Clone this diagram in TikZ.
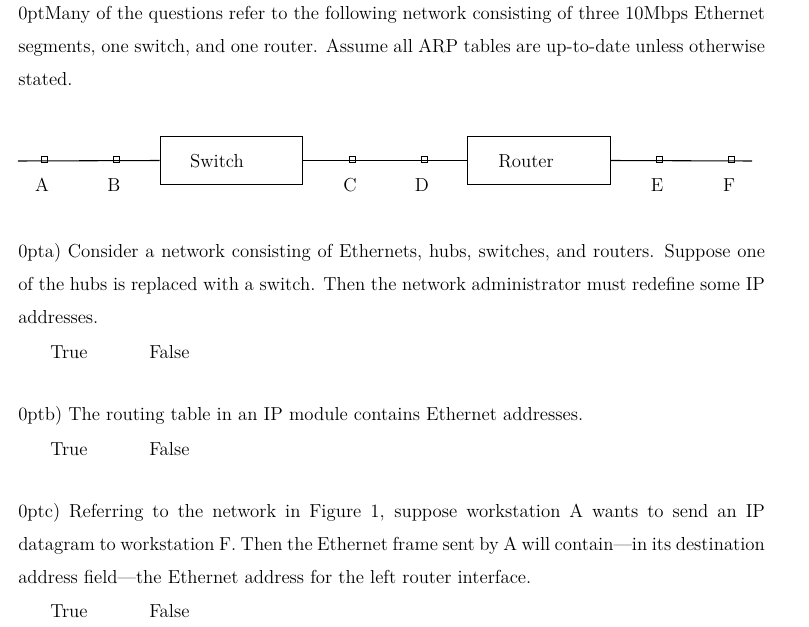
\documentclass[tikz,border=0pt]{standalone}
\begin{document}
\begin{tikzpicture}[x=0.75pt,y=-0.75pt,
 para/.style={anchor=north west,inner sep=0pt,text width=560pt,align=justify,font=\fontsize{14.1}{24.75}\selectfont\hyphenpenalty=10000\exhyphenpenalty=10000},
 txt/.style={inner sep=0pt,font=\fontsize{14.1}{16}\selectfont},
 sq/.style={draw,line width=0.6pt,minimum size=4.5pt,inner sep=0pt},
 box/.style={draw,line width=0.8pt,minimum width=107pt,minimum height=36.5pt,inner sep=0pt}]
\useasboundingbox (0,0) rectangle (809,627);
\node[para] (p1) at (18,6) {Many of the questions refer to the following network consisting of three 10Mbps Ethernet segments, one switch, and one router. Assume all ARP tables are up-to-date unless otherwise stated.};
\coordinate (l0) at (18,161);
\coordinate (l1) at (752,161);
\node[box] (sw) at (231.5,160.5) {};
\node[box] (rt) at (539,160.5) {};
\draw[line width=0.8pt] (l0) -- (sw.west);
\draw[line width=0.8pt] (sw.east) -- (rt.west);
\draw[line width=0.8pt] (rt.east) -- (l1);
\node[txt] (swt) at (217,161) {Switch};
\node[txt] (rtt) at (526,161) {Router};
\foreach \n/\x in {A/44,B/116,C/352,D/424,E/659,F/731}{
  \node[sq] (s\n) at (\x,159) {};
  \node[txt] (t\n) at (\x-2,185) {\n};
}
\node[para] (pa) at (18,243) {a) Consider a network consisting of Ethernets, hubs, switches, and routers. Suppose one of the hubs is replaced with a switch. Then the network administrator must redefine some IP addresses.};
\node[txt,anchor=west] (ta) at (50,352) {True};
\node[txt,anchor=west] (fa) at (149,352) {False};
\node[para] (pb) at (18,406) {b) The routing table in an IP module contains Ethernet addresses.};
\node[txt,anchor=west] (tb) at (50,449) {True};
\node[txt,anchor=west] (fb) at (149,449) {False};
\node[para] (pc) at (18,503) {c) Referring to the network in Figure 1, suppose workstation A wants to send an IP datagram to workstation F. Then the Ethernet frame sent by A will contain---in its destination address field---the Ethernet address for the left router interface.};
\node[txt,anchor=west] (tc) at (50,611) {True};
\node[txt,anchor=west] (fc) at (149,611) {False};
\end{tikzpicture}
\end{document}
